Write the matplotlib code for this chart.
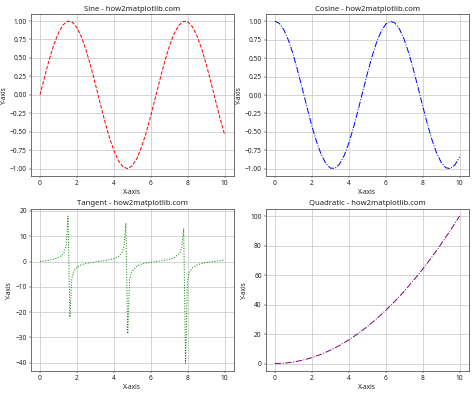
import matplotlib
matplotlib.use('Agg')
import matplotlib.pyplot as plt
import numpy as np

plt.rcParams['font.family'] = ['Noto Sans', 'DejaVu Sans']

# sample grid for the smooth curves (step 0.25)
x_smooth = np.arange(41) * 0.25

sine_y = [0.0, 0.2474, 0.4794, 0.6816, 0.8415, 0.9490, 0.9975, 0.9840, 0.9093, 0.7781,
          0.5985, 0.3817, 0.1411, -0.1082, -0.3508, -0.5716, -0.7568, -0.8950, -0.9775, -0.9993,
          -0.9589, -0.8589, -0.7055, -0.5083, -0.2794, -0.0332, 0.2151, 0.4500, 0.6570, 0.8231,
          0.9380, 0.9946, 0.9894, 0.9228, 0.7985, 0.6247, 0.4121, 0.1743, -0.0752, -0.3195, -0.5440]

cosine_y = [1.0, 0.9689, 0.8776, 0.7317, 0.5403, 0.3153, 0.0707, -0.1782, -0.4161, -0.6282,
            -0.8011, -0.9243, -0.9900, -0.9941, -0.9365, -0.8206, -0.6536, -0.4461, -0.2108, 0.0376,
            0.2837, 0.5128, 0.7087, 0.8612, 0.9602, 0.9994, 0.9766, 0.8930, 0.7539, 0.5679,
            0.3466, 0.1037, -0.1455, -0.3853, -0.6020, -0.7807, -0.9111, -0.9853, -0.9972, -0.9475, -0.8391]

tan_x = [0.0, 0.25, 0.5, 0.75, 1.0, 1.2, 1.3131, 1.4141, 1.5152, 1.6162, 1.7172, 1.8182,
         2.0, 2.25, 2.5, 2.75, 3.0, 3.25, 3.5, 3.75, 4.0, 4.25, 4.4444, 4.5455, 4.6465,
         4.7475, 4.8485, 4.9495, 5.25, 5.5, 5.75, 6.0, 6.25, 6.5, 6.75, 7.0, 7.25, 7.5758,
         7.6768, 7.7778, 7.8788, 7.9798, 8.0808, 8.25, 8.5, 8.75, 9.0, 9.25, 9.5, 9.75, 10.0]
tan_y = [0.0, 0.2553, 0.5463, 0.9316, 1.5574, 2.572, 3.794, 6.329, 17.95, -22.03, -6.782, -3.959,
         -2.185, -1.238, -0.747, -0.4207, -0.1425, 0.1088, 0.3746, 0.6978, 1.1578, 2.006, 3.643, 5.936, 15.15,
         -28.49, -7.302, -4.139, -1.683, -0.9915, -0.592, -0.291, -0.0332, 0.2203, 0.504, 0.8714, 1.446, 3.501,
         5.583, 13.10, -40.31, -7.907, -4.333, -2.55, -1.324, -0.801, -0.4523, -0.1766, 0.0753, 0.3373, 0.6484]

quad_x = np.arange(21) * 0.5
quad_y = [0, 0.25, 1, 2.25, 4, 6.25, 9, 12.25, 16, 20.25, 25, 30.25, 36, 42.25, 49,
          56.25, 64, 72.25, 81, 90.25, 100]

fig, axs = plt.subplots(2, 2, figsize=(12, 10), dpi=39.5)
fig.subplots_adjust(left=0.065, right=0.989, top=0.965, bottom=0.061, wspace=0.156, hspace=0.202)

panels = [
    (axs[0, 0], x_smooth, sine_y, 'r', '--', 'Sine - how2matplotlib.com'),
    (axs[0, 1], x_smooth, cosine_y, 'b', '-.', 'Cosine - how2matplotlib.com'),
    (axs[1, 0], tan_x, tan_y, 'g', ':', 'Tangent - how2matplotlib.com'),
    (axs[1, 1], quad_x, quad_y, 'purple', '-.', 'Quadratic - how2matplotlib.com'),
]

for ax, xs, ys, c, ls, title in panels:
    ax.plot(xs, ys, color=c, linestyle=ls, linewidth=1.8)
    ax.set_title(title, fontsize=14, color='#222222')
    ax.set_xlabel('X-axis', fontsize=12, color='#222222')
    ax.set_ylabel('Y-axis', fontsize=12, color='#222222', labelpad=4)
    ax.tick_params(labelsize=12, labelcolor='#222222')
    ax.grid(True, color='#cccccc', linewidth=1.5)
    for s in ax.spines.values():
        s.set_color('#555555')
        s.set_linewidth(1.5)

fig.savefig('out.png', dpi=39.5)
